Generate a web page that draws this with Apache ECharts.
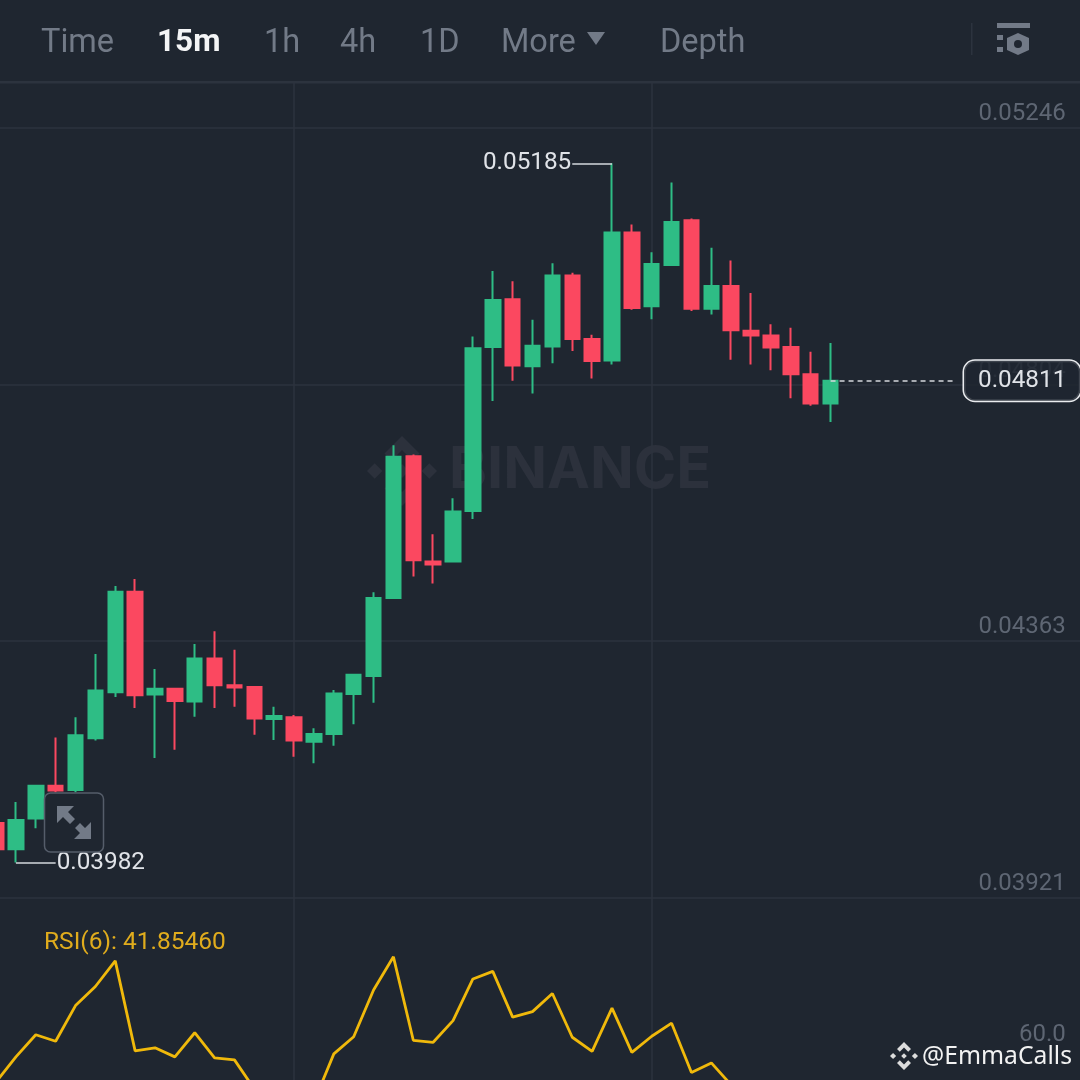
<!DOCTYPE html>
<html>
<head>
<meta charset="utf-8">
<style>
  html, body { margin: 0; padding: 0; background: #1f2630; }
  #main { width: 1080px; height: 1080px; }
</style>
</head>
<body>
<div id="main"></div>
<script src="https://cdn.jsdelivr.net/npm/echarts@6/dist/echarts.min.js"></script>
<script>
var opens = [0.04050,0.04005,0.04058,0.04114,0.04107,0.04196,0.04275,0.04448,0.04271,0.04281,0.04259,0.04333,0.04287,0.04284,0.04229,0.04232,0.04190,0.04203,0.04272,0.04303,0.04437,0.04681,0.04500,0.04500,0.04587,0.04869,0.04951,0.04836,0.04870,0.04992,0.04883,0.04846,0.05066,0.04939,0.05010,0.05087,0.04935,0.04974,0.04897,0.04889,0.04869,0.04822,0.04772];
var closes = [0.04005,0.04055,0.04114,0.04106,0.04201,0.04278,0.04448,0.04270,0.04281,0.04260,0.04333,0.04287,0.04283,0.04230,0.04234,0.04192,0.04203,0.04273,0.04305,0.04437,0.04680,0.04502,0.04495,0.04586,0.04867,0.04950,0.04837,0.04871,0.04992,0.04883,0.04845,0.05066,0.04936,0.05012,0.05084,0.04935,0.04974,0.04898,0.04889,0.04868,0.04822,0.04772,0.04811];
var lows = [0.04000,0.03982,0.04041,0.04103,0.04103,0.04192,0.04267,0.04248,0.04162,0.04176,0.04233,0.04248,0.04250,0.04202,0.04193,0.04164,0.04153,0.04183,0.04220,0.04257,0.04437,0.04474,0.04462,0.04500,0.04573,0.04776,0.04811,0.04789,0.04841,0.04862,0.04815,0.04839,0.04933,0.04917,0.05010,0.04931,0.04925,0.04847,0.04839,0.04829,0.04781,0.04768,0.04740];
var highs = [0.04055,0.04086,0.04115,0.04197,0.04232,0.04341,0.04458,0.04470,0.04315,0.04282,0.04358,0.04380,0.04348,0.04284,0.04250,0.04236,0.04213,0.04279,0.04307,0.04447,0.04700,0.04684,0.04547,0.04609,0.04887,0.05000,0.04982,0.04916,0.05013,0.04997,0.04890,0.05185,0.05080,0.05032,0.05152,0.05090,0.05040,0.05018,0.04962,0.04908,0.04902,0.04861,0.04876];
var rsi = [53.4,58.4,62.8,61.5,68.6,72.4,77.5,59.6,60.2,58.4,63.2,58.2,57.8,52,48.8,47.4,49.4,59,62.4,71.7,78.3,61.7,61.3,65.6,73.9,75.4,66.3,67.4,71,62.3,59.5,68.1,59.3,62.5,65.1,55.3,57.2,52.8,49.8,46.8,44.8,40.8,41.85];
var priceTicks = [0.03921,0.04363,0.04804,0.05246];
var rsiTicks = [60];
var gridBars = [15,33];
var tabs = [["Time",41],["15m",157],["1h",264],["4h",340],["1D",420],["More",501],["Depth",660]];

// 43 candles plus the empty room on the right, one bar every 19.87px
var categories = [];
for (var i = 0; i < 56; i++) categories.push(String(i));

var candles = opens.map(function (o, i) { return [o, closes[i], lows[i], highs[i]]; });
var lastIdx = closes.length - 1;

var BG = "#1f2630", LINE = "#2c333e", MUTED = "#5e6673", TAB = "#727a87", FONT = "Roboto";

function xAxisFor(gridIndex) {
  return {
    type: "category", gridIndex: gridIndex, data: categories, boundaryGap: true,
    axisLine: { show: false }, axisTick: { show: false }, axisLabel: { show: false },
    splitLine: {
      show: true, alignWithLabel: true,
      interval: function (i) { return gridBars.indexOf(i) >= 0; },
      lineStyle: { color: LINE, width: 1.5 }
    }
  };
}

function yAxisFor(gridIndex, min, max, ticks, decimals) {
  return {
    type: "value", gridIndex: gridIndex, position: "right", min: min, max: max, scale: true,
    axisLine: { show: false },
    axisTick: { show: false, customValues: ticks },
    splitLine: { show: gridIndex === 0, lineStyle: { color: LINE, width: 1.5 } },
    axisLabel: {
      inside: true, margin: 33, customValues: ticks, color: MUTED, fontSize: 24, fontFamily: FONT,
      verticalAlign: "bottom", padding: [0, 0, 2, 0],
      formatter: function (v) { return v.toFixed(decimals); }
    }
  };
}

// binance mark, centre diamond + two side diamonds + two chevrons
function logo(cx, cy, s, color, z) {
  function diamond(x, y, r) {
    return [[x, y - r], [x + r, y], [x, y + r], [x - r, y]];
  }
  function chevron(d) {
    return [[0, -s * d], [s * 0.5, -s * 0.5 * d], [s * 0.3, -s * 0.3 * d], [0, -s * 0.6 * d], [-s * 0.3, -s * 0.3 * d], [-s * 0.5, -s * 0.5 * d]]
      .map(function (p) { return [cx + p[0], cy + p[1]]; });
  }
  return [diamond(cx, cy, s * 0.2), diamond(cx - s * 0.78, cy, s * 0.22), diamond(cx + s * 0.78, cy, s * 0.22), chevron(1), chevron(-1)]
    .map(function (pts) {
      return { type: "polygon", z: z, silent: true, shape: { points: pts }, style: { fill: color } };
    });
}

function tabStyle(t) {
  var active = t === "15m";
  return { text: t, fill: active ? "#f4f5f6" : TAB, fontSize: active ? 31.5 : 32.5, fontFamily: FONT, fontWeight: active ? "bold" : "normal" };
}

var graphics = tabs.map(function (t) {
  return { type: "text", left: t[1], top: 27, z: 5, style: tabStyle(t[0]) };
});
graphics.push(
  { type: "polygon", z: 5, shape: { points: [[587, 32], [605, 32], [596, 45]] }, style: { fill: TAB } },
  { type: "rect", z: 5, shape: { x: 0, y: 81, width: 1080, height: 2.5 }, style: { fill: LINE } },
  { type: "rect", z: 5, shape: { x: 971, y: 23, width: 1.5, height: 32 }, style: { fill: LINE } },
  { type: "rect", z: 5, shape: { x: 997, y: 23, width: 33, height: 5 }, style: { fill: TAB } },
  { type: "rect", z: 5, shape: { x: 997, y: 35, width: 6, height: 5 }, style: { fill: TAB } },
  { type: "rect", z: 5, shape: { x: 997, y: 47, width: 6, height: 5 }, style: { fill: TAB } },
  { type: "polygon", z: 5, shape: { points: [[1018, 33], [1029, 38], [1029, 50], [1018, 55], [1007, 50], [1007, 38]] }, style: { fill: TAB } },
  { type: "circle", z: 5, shape: { cx: 1018, cy: 44, r: 4 }, style: { fill: BG } },
  // watermark sits under the candles
  { type: "text", left: 449, top: 442, z: 0, style: { text: "BINANCE", fill: "#2c313c", fontSize: 57.5, fontWeight: "bold", fontFamily: "Inter" } },
  // expand button
  { type: "rect", z: 20, shape: { x: 44.5, y: 793, width: 59, height: 59, r: 6 }, style: { fill: BG, stroke: "#555d6a", lineWidth: 1.5 } },
  { type: "polygon", z: 21, shape: { points: [[57, 806], [74, 806], [68, 812], [75, 819], [70, 824], [63, 817], [57, 823]] }, style: { fill: TAB } },
  { type: "polygon", z: 21, shape: { points: [[91, 839], [74, 839], [80, 833], [75, 828], [80, 823], [85, 828], [91, 822]] }, style: { fill: TAB } },
  { type: "text", left: 44, top: 930, z: 5, style: { text: "RSI(6): 41.85460", fill: "#e0ac1d", fontSize: 24.5, fontFamily: FONT } },
  { type: "text", left: 922, top: 1044, z: 5, style: { text: "@EmmaCalls", fill: "#f2f2f2", fontSize: 24.7, fontFamily: "Noto Sans" } }
);
graphics = graphics.concat(logo(402, 471, 35, "#2c313c", 0), logo(904, 1056, 14, "#dcdcdc", 5));

var priceLabel = { position: "end", distance: 1, color: "#e0e3e8", fontSize: 24.3, fontFamily: FONT };

var chart = echarts.init(document.getElementById("main"), null, { renderer: "canvas" });
chart.setOption({
  animation: false,
  backgroundColor: BG,
  textStyle: { fontFamily: FONT },
  graphic: graphics,
  axisPointer: { show: false },
  grid: [
    { outerBoundsMode: "none", left: -13.9, right: -18.8, top: 82, height: 816 },
    { outerBoundsMode: "none", left: -13.9, right: -18.8, top: 898, height: 182 }
  ],
  xAxis: [xAxisFor(0), xAxisFor(1)],
  yAxis: [
    yAxisFor(0, 0.03921, 0.05325, priceTicks, 5),
    yAxisFor(1, 53.8, 90, rsiTicks, 1)
  ],
  series: [
    {
      type: "candlestick", xAxisIndex: 0, yAxisIndex: 0, data: candles, barWidth: 15,
      itemStyle: { color: "#2ebd85", color0: "#fb4860", borderColor: "#2ebd85", borderColor0: "#fb4860", borderWidth: 2 },
      markLine: {
        silent: true, symbol: "none", animation: false,
        data: [
          [
            { xAxis: 31, yAxis: 0.05185 },
            { xAxis: 29, yAxis: 0.05185, lineStyle: { color: "#d5d8dc", width: 1.5, type: "solid" },
              label: Object.assign({ formatter: "0.05185" }, priceLabel) }
          ],
          [
            { xAxis: 1, yAxis: 0.03982 },
            { xAxis: 3, yAxis: 0.03982, lineStyle: { color: "#d5d8dc", width: 1.5, type: "solid" },
              label: Object.assign({ formatter: "0.03982" }, priceLabel) }
          ],
          [
            { xAxis: lastIdx, yAxis: closes[lastIdx] },
            { xAxis: 48, yAxis: closes[lastIdx], x: 955, lineStyle: { color: "#d5d8dc", width: 1.5, type: [5, 4] },
              label: Object.assign({}, priceLabel, {
                distance: 9, formatter: "0.04811",
                backgroundColor: "rgba(31,38,48,0.85)", borderColor: "#eaecef", borderWidth: 1.5, borderRadius: 11, padding: [8, 14]
              }) }
          ]
        ]
      }
    },
    {
      type: "line", xAxisIndex: 1, yAxisIndex: 1, data: rsi, showSymbol: false, symbol: "none",
      lineStyle: { color: "#f0b90b", width: 2.8 }, clip: true
    }
  ]
});
</script>
</body>
</html>
